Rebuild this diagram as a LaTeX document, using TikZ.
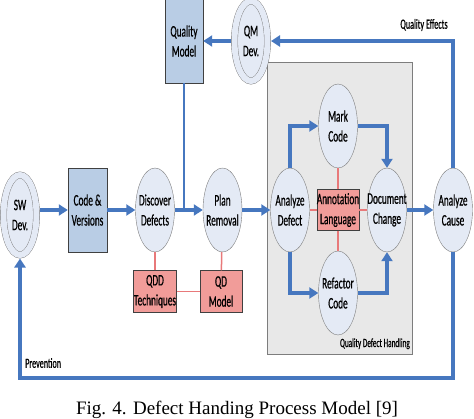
\documentclass[tikz,border=0pt]{standalone}
\usepackage{fontspec}
\setmainfont{Liberation Serif}
\newfontfamily\lblfont[FakeStretch=0.58,FakeBold=0.6]{Carlito}
\usetikzlibrary{arrows.meta,shapes.geometric}

\definecolor{ellfill}{RGB}{228,234,245}
\definecolor{ellline}{RGB}{125,125,125}
\definecolor{storeblue}{RGB}{185,205,229}
\definecolor{toolred}{RGB}{241,156,153}
\definecolor{boxline}{RGB}{64,64,64}
\definecolor{flowblue}{RGB}{70,119,191}
\definecolor{linkred}{RGB}{232,121,122}
\definecolor{handlegray}{RGB}{232,232,232}

\begin{document}
\begin{tikzpicture}[x=1pt,y=-1pt]
        % Styles for the process steps, stores, tools and connectors
        \tikzset{
            lbl/.style={align=center, font=\lblfont\fontsize{16}{20}\selectfont},
            proc/.style={lbl, ellipse, draw=ellline, fill=ellfill, minimum width=39pt, minimum height=84pt, inner xsep=-6pt, inner ysep=0pt},
            dev/.style={proc, minimum width=33pt, minimum height=80pt, double=ellfill, double distance=6pt, outer sep=3.5pt},
            store/.style={lbl, rectangle, draw=boxline, fill=storeblue, minimum width=39pt, minimum height=84pt, inner sep=0pt},
            tool/.style={lbl, rectangle, draw=boxline, fill=toolred, minimum width=43pt, minimum height=42pt, inner sep=0pt},
            flow/.style={draw=flowblue, line width=3.5pt, -{Triangle[length=9pt,width=11pt]}},
            link/.style={draw=linkred, line width=1.5pt},
            note/.style={font=\lblfont\fontsize{14}{16}\selectfont, inner sep=0pt}
        }
        \useasboundingbox (0,0) rectangle (474,418);

        % Quality defect handling area
        \node[draw=ellline, fill=handlegray, minimum width=145pt, minimum height=292pt] (handling) at (339.5,208) {};
        \node[note, font=\lblfont\fontsize{12.5}{14}\selectfont, anchor=base east] (handlinglbl) at (410,347) {Quality Defect Handling};

        % Main process steps
        \node[dev] (swdev) at (20,215) {SW\\Dev.};
        \node[store] (code) at (87.5,210) {Code \&\\Versions};
        \node[proc] (discover) at (155,210) {Discover\\Defects};
        \node[proc] (plan) at (222.5,210) {Plan\\Removal};
        \node[proc] (adefect) at (290,210) {Analyze\\Defect};
        \node[proc] (markcode) at (338,126) {Mark\\Code};
        \node[tool, minimum width=42pt, minimum height=41pt] (annot) at (338,210) {Annotation\\Language};
        \node[proc] (refactor) at (338,293) {Refactor\\Code};
        \node[proc] (doc) at (387,210) {Document\\Change};
        \node[proc] (acause) at (453,210) {Analyze\\Cause};

        % Quality model development
        \node[dev] (qmdev) at (251,41) {QM\\Dev.};
        \node[store, minimum width=38pt] (qmodel) at (184,41) {Quality\\Model};

        % Tools
        \node[tool] (qdd) at (155,291.5) {QDD\\Techniques};
        \node[tool, minimum width=42pt] (qdmodel) at (221,291.5) {QD\\Model};

        % Labels
        \node[note] (effects) at (424,25) {Quality Effects};
        \node[note, anchor=west] (prevention) at (25,363) {Prevention};
        \node[font=\fontsize{19}{22}\selectfont, inner sep=0pt, anchor=base] (caption) at (237,414) {Fig. 4. Defect Handing Process Model [9]};

        % Tool links
        \draw[link] (discover) -- (qdd);
        \draw[link] (plan) -- (qdmodel);
        \draw[link] (qdd) -- (qdmodel);
        \draw[link] (annot) -- (markcode);
        \draw[link] (annot) -- (refactor);
        \draw[link] (annot) -- (adefect);
        \draw[link] (annot) -- (doc);

        % Main flow
        \draw[flow] (code.west -| swdev.east) -- (code.west);
        \draw[flow] (code) -- (discover);
        \draw[flow] (discover) -- (plan);
        \draw[flow] (plan) -- (adefect);
        \draw[flow] (adefect.north) |- (markcode.west);
        \draw[flow] (markcode.east) -| (doc.north);
        \draw[flow] (adefect.south) |- (refactor.west);
        \draw[flow] (refactor.east) -| (doc.south);
        \draw[flow] (doc) -- (acause);

        % Quality effects and prevention feedback
        \draw[flow] (acause.north) |- (qmdev.east);
        \draw[flow] (qmdev) -- (qmodel);
        \draw[draw=flowblue, line width=2pt] (qmodel.south) -- (qmodel.south |- discover.east);
        \coordinate (loop) at (20,378);
        \draw[flow] (acause.south) |- (loop) -- (swdev.south);

    \end{tikzpicture}
\end{document}
